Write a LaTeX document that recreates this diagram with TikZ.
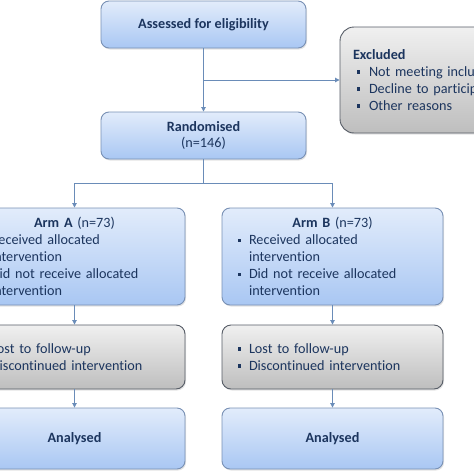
\documentclass[tikz,border=0pt]{standalone}
\usepackage{fontspec}
\setmainfont[Ligatures=NoCommon]{Carlito}
\usetikzlibrary{shadows,arrows.meta}
\definecolor{txt}{HTML}{1C355E}
\definecolor{bluetop}{HTML}{E2ECFB}
\definecolor{bluebot}{HTML}{A9C7F3}
\definecolor{blueline}{HTML}{7890B4}
\definecolor{graytop}{HTML}{F0F0F0}
\definecolor{graybot}{HTML}{BEBEBE}
\definecolor{grayline}{HTML}{565C66}
\definecolor{connc}{HTML}{6A8CB8}
\newcommand\fsz{\fontsize{14.2}{17}\selectfont}
\newcommand\bsq[1][11pt]{\makebox[#1][l]{\raisebox{2.8pt}{\rule{3.2pt}{3.2pt}}}}
\tikzset{
 boxbase/.style={line width=0.9pt, text=txt, inner ysep=0pt, font=\fsz,
   drop shadow={opacity=0.22,shadow xshift=1pt,shadow yshift=-1.5pt}},
 bluebox/.style={boxbase, draw=blueline, rounded corners=8pt, top color=bluetop, bottom color=bluebot},
 graybox/.style={boxbase, draw=grayline, rounded corners=9pt, top color=graytop, bottom color=graybot},
 conn/.style={draw=connc, line width=0.9pt},
 arr/.style={conn, -{Triangle[length=4.5pt,width=4.5pt]}},
}
\begin{document}
\begin{tikzpicture}
\useasboundingbox (0,0) rectangle (474pt,-474pt);
\clip (0,0) rectangle (474pt,-474pt);
\begin{scope}[x=1pt,y=1pt]
\node[bluebox, minimum width=205pt, minimum height=47pt, align=center, font=\fsz\bfseries] (ass) at (203.5,-24.5) {Assessed for eligibility};
\node[graybox, rounded corners=14pt, minimum width=240pt, minimum height=106pt, inner xsep=13pt, text width=214pt, align=left] (excl) at (460,-80)
 {\textbf{Excluded}\\
  \hspace*{4pt}\bsq[12pt]Not meeting inclusion criteria\\
  \hspace*{4pt}\bsq[12pt]Decline to participate\\
  \hspace*{4pt}\bsq[12pt]Other reasons};
\node[bluebox, minimum width=205pt, minimum height=47pt, align=center] (rand) at (203.5,-135.5) {\textbf{Randomised}\\(n=146)};

\node[bluebox, minimum width=221pt, minimum height=97pt, inner xsep=16pt, text width=189pt, align=left] (armA) at (74.5,-256.5)
 {\makebox[189pt][c]{\textbf{Arm A} (n=73)}\\
  \bsq Received allocated\\
  \hspace*{11pt}intervention\\
  \bsq Did not receive allocated\\
  \hspace*{11pt}intervention};
\node[bluebox, minimum width=221pt, minimum height=97pt, inner xsep=16pt, text width=189pt, align=left] (armB) at (332.5,-256.5)
 {\makebox[189pt][c]{\textbf{Arm B} (n=73)}\\
  \bsq Received allocated\\
  \hspace*{11pt}intervention\\
  \bsq Did not receive allocated\\
  \hspace*{11pt}intervention};

\node[graybox, minimum width=221pt, minimum height=64pt, inner xsep=16pt, text width=189pt, align=left] (lostA) at (74.5,-357)
 {\bsq Lost to follow-up\\
  \bsq Discontinued intervention};
\node[graybox, minimum width=221pt, minimum height=64pt, inner xsep=16pt, text width=189pt, align=left] (lostB) at (332.5,-357)
 {\bsq Lost to follow-up\\
  \bsq Discontinued intervention};

\node[bluebox, minimum width=221pt, minimum height=61pt, align=center, font=\fsz\bfseries] (anA) at (74.5,-438.5) {Analysed};
\node[bluebox, minimum width=221pt, minimum height=61pt, align=center, font=\fsz\bfseries] (anB) at (332.5,-438.5) {Analysed};

\coordinate (br) at (203.5,-80);
\coordinate (split) at (203.5,-183);
\coordinate (sa) at (74.5,-183);
\coordinate (sb) at (332.5,-183);
\draw[arr] (ass) -- (rand);
\draw[arr] (br) -- (br -| excl.west);
\draw[conn] (rand) -- (split);
\draw[conn] (sa) -- (sb);
\draw[arr] (sa) -- (armA);
\draw[arr] (sb) -- (armB);
\draw[arr] (armA) -- (lostA);
\draw[arr] (armB) -- (lostB);
\draw[arr] (lostA) -- (anA);
\draw[arr] (lostB) -- (anB);
\end{scope}
\end{tikzpicture}
\end{document}
